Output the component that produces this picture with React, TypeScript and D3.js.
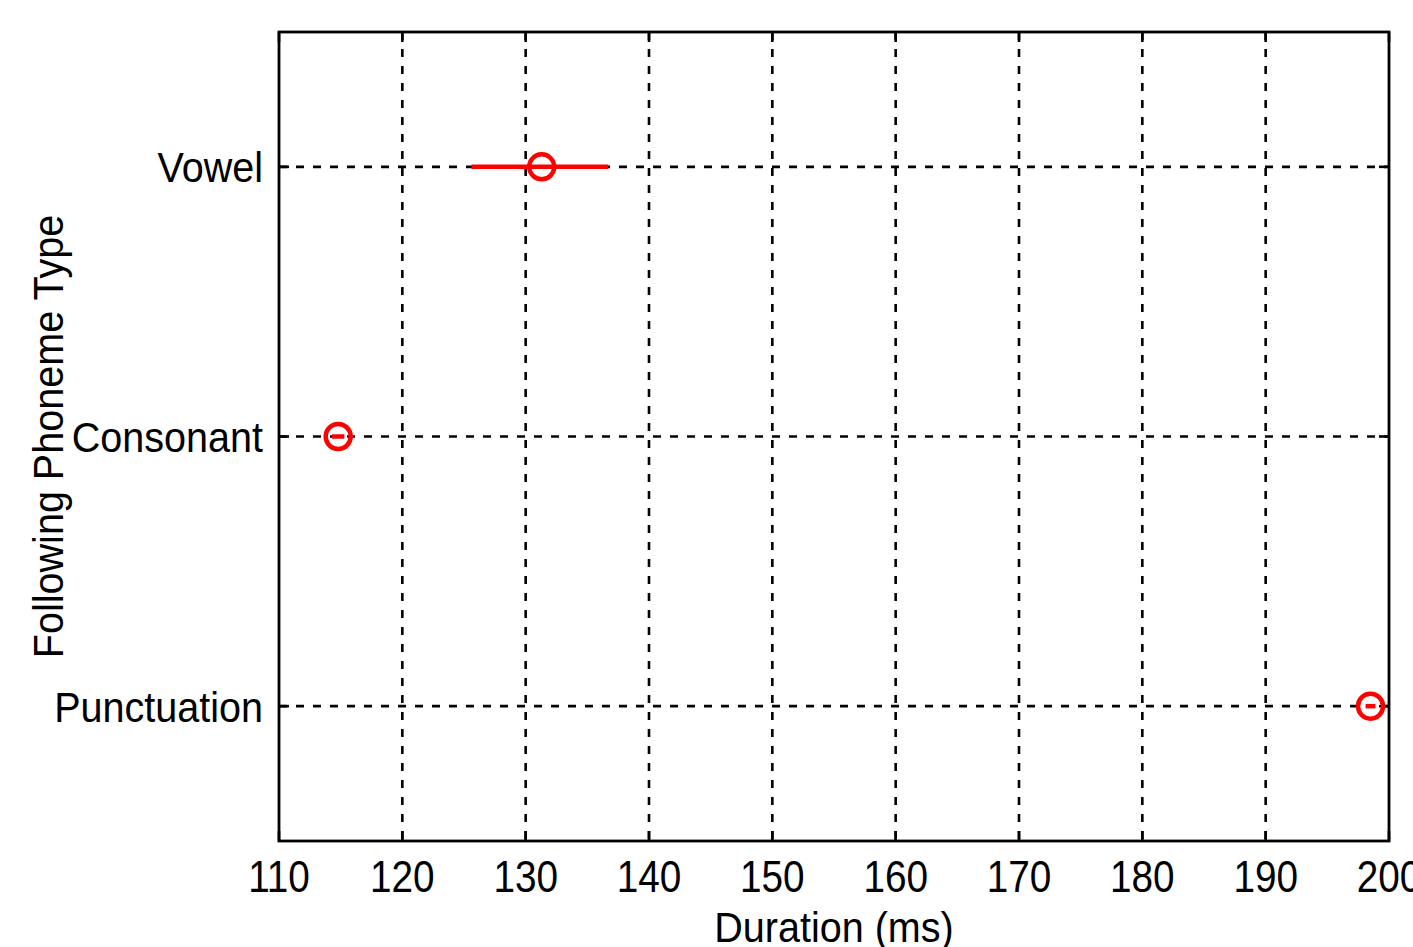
import React from "react";
import * as d3 from "d3";

const categories = ["Punctuation", "Consonant", "Vowel"];
const means = [198.5, 114.8, 131.3];
const lower = [198.1, 114.3, 125.6];
const upper = [198.9, 115.3, 136.7];
const xTicks = [110, 120, 130, 140, 150, 160, 170, 180, 190, 200];

const W = 1413;
const H = 947;
const M = { left: 279, right: 1389, top: 32, bottom: 841 };
const FONT = "'Liberation Sans', Arial, sans-serif";

export default function App() {
  const x = d3.scaleLinear().domain([110, 200]).range([M.left, M.right]);
  const y = d3.scaleLinear().domain([0.5, 3.5]).range([M.bottom, M.top]);
  const yTicks = categories.map((_, i) => i + 1);
  const tickLen = 10;
  const red = "#ff0000";
  const gridW = 2.6;

  return (
    <svg
      width={W}
      height={H}
      style={{ position: "absolute", left: 0, top: 0, background: "#fff" }}
      fontFamily={FONT}
    >
      <rect x={0} y={0} width={W} height={H} fill="#fff" />
      {/* grid */}
      {xTicks.slice(1, -1).map((t) => (
        <line
          key={"gx" + t}
          x1={x(t)}
          x2={x(t)}
          y1={M.top}
          y2={M.bottom}
          stroke="#000"
          strokeWidth={gridW}
          strokeDasharray="8,9"
        />
      ))}
      {yTicks.map((t) => (
        <line
          key={"gy" + t}
          x1={M.left}
          x2={M.right}
          y1={y(t)}
          y2={y(t)}
          stroke="#000"
          strokeWidth={gridW}
          strokeDasharray="8,9"
        />
      ))}
      {/* ticks */}
      {xTicks.map((t) => (
        <g key={"tx" + t}>
          <line x1={x(t)} x2={x(t)} y1={M.bottom} y2={M.bottom - tickLen} stroke="#000" strokeWidth={gridW} />
          <line x1={x(t)} x2={x(t)} y1={M.top} y2={M.top + tickLen} stroke="#000" strokeWidth={gridW} />
          <text
            transform={`translate(${x(t)}, 892) scale(0.88, 1)`}
            textAnchor="middle"
            fontSize={44}
            fill="#000"
          >
            {t}
          </text>
        </g>
      ))}
      {yTicks.map((t, i) => (
        <g key={"ty" + t}>
          <line x1={M.left} x2={M.left + tickLen} y1={y(t)} y2={y(t)} stroke="#000" strokeWidth={gridW} />
          <line x1={M.right} x2={M.right - tickLen} y1={y(t)} y2={y(t)} stroke="#000" strokeWidth={gridW} />
          <text
            transform={`translate(${M.left - 16}, ${y(t)}) scale(0.92, 1)`}
            dy="0.36em"
            textAnchor="end"
            fontSize={43}
            fill="#000"
          >
            {categories[i]}
          </text>
        </g>
      ))}
      {/* frame */}
      <rect
        x={M.left}
        y={M.top}
        width={M.right - M.left}
        height={M.bottom - M.top}
        fill="none"
        stroke="#000"
        strokeWidth={2.8}
      />
      {/* data */}
      {means.map((m, i) => (
        <g key={"d" + i}>
          <line
            x1={x(lower[i])}
            x2={x(upper[i])}
            y1={y(i + 1)}
            y2={y(i + 1)}
            stroke={red}
            strokeWidth={4.5}
          />
          <circle cx={x(m)} cy={y(i + 1)} r={12.5} fill="none" stroke={red} strokeWidth={4.5} />
        </g>
      ))}
      {/* axis labels */}
      <text
        transform={`translate(${(M.left + M.right) / 2}, 942) scale(0.92, 1)`}
        textAnchor="middle"
        fontSize={43}
        fill="#000"
      >
        Duration (ms)
      </text>
      <text
        transform={`translate(63, ${(M.top + M.bottom) / 2}) rotate(-90) scale(0.92, 1)`}
        textAnchor="middle"
        fontSize={43}
        fill="#000"
      >
        Following Phoneme Type
      </text>
    </svg>
  );
}
